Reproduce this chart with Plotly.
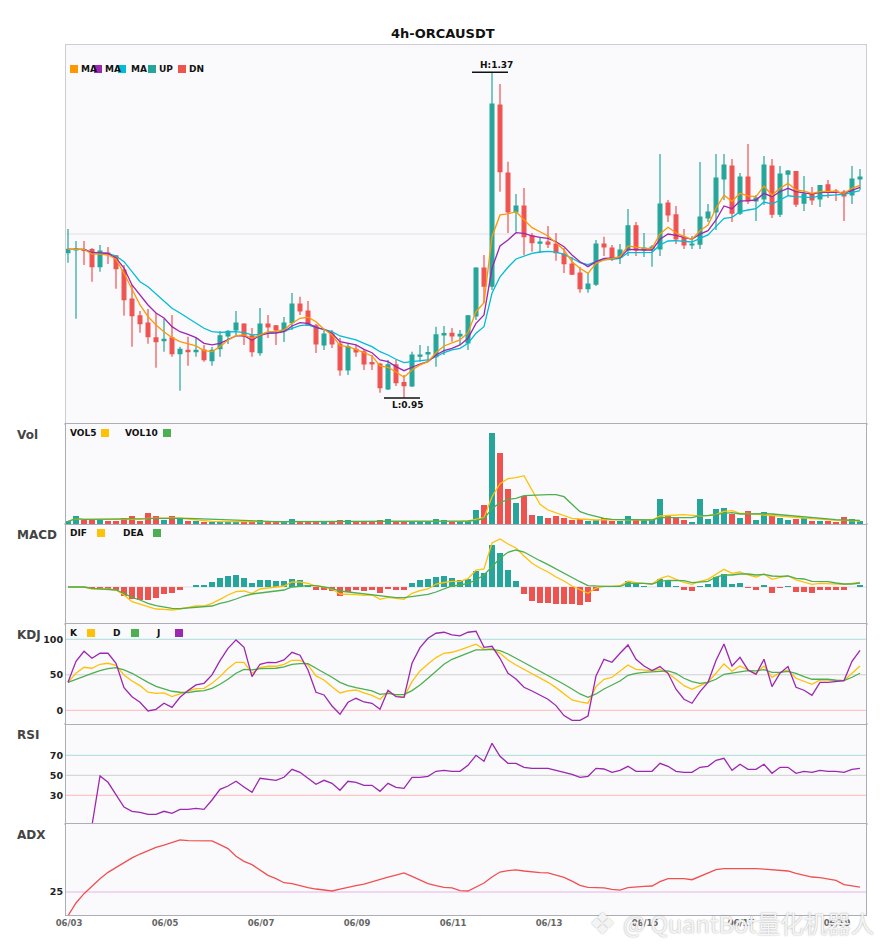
import plotly.graph_objects as go
from plotly.subplots import make_subplots

tick_index = [0, 12, 24, 36, 48, 60, 72, 84, 96]
tick_text = ["06/03", "06/05", "06/07", "06/09", "06/11", "06/13", "06/15", "06/17", "06/19"]

opens = [1.137,1.1405,1.141,1.1411,1.119,1.1366,1.1328,1.1147,1.0773,1.0554,
1.0463,1.027,1.0235,1.027,1.0067,1.0111,1.0093,1.0115,0.9977,1.0132,
1.0296,1.0373,1.045,1.0296,1.008,1.045,1.0425,1.036,1.0467,1.0708,
1.0618,1.0425,1.0179,1.0321,1.0192,0.9857,1.0124,1.009,0.9951,0.9934,
0.9612,0.9922,0.9693,0.9651,1.0034,1.0063,1.0028,1.0309,1.033,1.0296,
1.0205,1.0554,1.1173,1.094,1.3276,1.2398,1.1895,1.1973,1.1586,1.1495,
1.1508,1.1482,1.1353,1.1224,1.1108,1.0906,1.0966,1.1482,1.1431,1.1315,
1.1405,1.1715,1.1405,1.1418,1.1418,1.2011,1.1857,1.1573,1.147,1.1482,
1.1818,1.1895,1.2321,1.2489,1.1882,1.2347,1.2037,1.2063,1.2489,1.1869,
1.2385,1.2418,1.2011,1.2127,1.2063,1.2244,1.2166,1.2153,1.2115,1.2321]
highs = [1.1676,1.1521,1.1521,1.1431,1.147,1.1444,1.134,1.1211,1.0954,1.0618,
1.0644,1.0592,1.0515,1.0567,1.0158,1.0287,1.0274,1.018,1.0154,1.036,
1.0373,1.0618,1.0459,1.0399,1.0657,1.0567,1.0438,1.0541,1.085,1.0803,
1.0747,1.045,1.0373,1.0373,1.027,1.0205,1.018,1.0128,1.005,0.9951,
0.9986,0.9986,0.9793,1.0093,1.018,1.0167,1.0416,1.0425,1.0399,1.0373,
1.0567,1.1182,1.134,1.37,1.3546,1.2544,1.2127,1.2205,1.1624,1.1577,
1.1715,1.1624,1.1431,1.1315,1.1186,1.1108,1.1534,1.1577,1.147,1.1482,
1.1934,1.1766,1.1624,1.147,1.2643,1.205,1.1973,1.1676,1.1586,1.254,
1.1998,1.2643,1.2643,1.2579,1.2398,1.2772,1.2115,1.2618,1.2579,1.2489,
1.2437,1.2424,1.236,1.2218,1.2244,1.2308,1.2192,1.2179,1.2489,1.245]
lows = [1.1241,1.0519,1.1211,1.0996,1.1125,1.1224,1.0906,1.0557,1.0158,1.0338,
1.0196,0.9887,1.0093,1.0028,0.959,0.9912,1.0028,0.9964,0.9912,1.0028,
1.0192,1.0309,1.018,1.0028,1.0041,1.027,1.018,1.0218,1.0373,1.0567,
1.0425,1.0076,1.0115,1.0141,0.9783,0.9792,1.0028,0.9857,0.9857,0.9564,
0.9599,0.965,0.95,0.9638,0.9964,0.9964,0.99,1.005,1.0222,1.018,
1.0115,1.0502,1.0721,1.0889,1.2157,1.1624,1.1641,1.134,1.1383,1.1366,
1.1431,1.1267,1.1108,1.1083,1.0854,1.0854,1.094,1.1328,1.1263,1.1224,
1.1328,1.1328,1.1315,1.119,1.1328,1.1766,1.1482,1.1418,1.1418,1.1418,
1.1766,1.1663,1.205,1.1766,1.1857,1.1998,1.1779,1.1986,1.1818,1.1831,
1.2115,1.196,1.1908,1.1986,1.196,1.2076,1.2037,1.1779,1.1998,1.2179]
closes = [1.1414,1.1418,1.1401,1.119,1.1392,1.1353,1.1164,1.0764,1.0557,1.0454,
1.0287,1.0222,1.0253,1.0067,1.0124,1.0093,1.0111,0.999,1.0111,1.0296,
1.0356,1.0463,1.0296,1.0093,1.045,1.0412,1.0373,1.0463,1.0708,1.0618,
1.0438,1.0192,1.0321,1.0192,0.9857,1.0154,1.009,0.9934,0.9934,0.9629,
0.9922,0.9693,0.9654,1.005,1.005,1.008,1.0309,1.0325,1.0296,1.0317,
1.0554,1.1173,1.094,1.3288,1.2415,1.1895,1.1973,1.1577,1.1499,1.1508,
1.1482,1.137,1.1228,1.1095,1.0906,1.0966,1.1482,1.1444,1.1302,1.1405,
1.1715,1.1405,1.1431,1.1444,1.1998,1.1857,1.1547,1.147,1.1482,1.1831,
1.1895,1.2334,1.2502,1.1882,1.2347,1.2037,1.2076,1.2502,1.1869,1.2385,
1.2424,1.1998,1.2127,1.205,1.2237,1.2153,1.2153,1.2102,1.2321,1.2347]

ma5 = [1.1414,1.1414,1.1414,1.1353,1.1353,1.134,1.1285,1.1104,1.0889,1.0696,
1.0545,1.0438,1.0351,1.0274,1.0222,1.0192,1.0167,1.0106,1.0093,1.0158,
1.0244,1.03,1.0309,1.0266,1.0309,1.0351,1.0356,1.0373,1.0459,1.0524,
1.0537,1.048,1.0382,1.0309,1.0171,1.0158,1.0124,1.008,1.0038,0.9909,
0.9892,0.9831,0.9763,0.9857,0.9922,0.9964,1.008,1.0167,1.0209,1.0244,
1.0338,1.0609,1.0725,1.1577,1.1857,1.187,1.1899,1.1792,1.1693,1.1641,
1.1586,1.1499,1.1405,1.1254,1.1169,1.1104,1.1233,1.1276,1.1302,1.1319,
1.1457,1.144,1.1427,1.1427,1.1611,1.1698,1.1628,1.1577,1.1543,1.1654,
1.1728,1.1943,1.2111,1.2033,1.2136,1.2102,1.2093,1.2231,1.2111,1.2201,
1.2265,1.2179,1.2166,1.2136,1.2157,1.2162,1.2162,1.2136,1.2201,1.224]
ma10 = [1.1414,1.1414,1.1414,1.1373,1.1366,1.136,1.1302,1.1173,1.0954,1.0825,
1.0696,1.0592,1.0528,1.0416,1.0351,1.0317,1.0274,1.0201,1.018,1.0201,
1.0244,1.0296,1.03,1.024,1.0305,1.033,1.0334,1.0351,1.0425,1.0467,
1.0459,1.0408,1.0382,1.033,1.0222,1.0201,1.018,1.0124,1.008,0.9986,
0.9964,0.99,0.9848,0.9892,0.9934,0.9964,1.005,1.0106,1.0137,1.018,
1.0266,1.0459,1.0567,1.1169,1.1457,1.1534,1.1628,1.162,1.1586,1.1569,
1.1556,1.1512,1.1448,1.134,1.1254,1.119,1.1254,1.1298,1.1298,1.1306,
1.1414,1.1405,1.1405,1.1405,1.1543,1.1611,1.1595,1.1569,1.1543,1.1611,
1.1654,1.1792,1.1973,1.1938,1.2037,1.2041,1.205,1.2136,1.2093,1.2157,
1.2201,1.2157,1.2144,1.2127,1.2149,1.2153,1.2153,1.2136,1.2179,1.2214]
ma20 = [1.1414,1.1414,1.1414,1.137,1.137,1.1362,1.1328,1.1254,1.1125,1.0996,
1.0932,1.0837,1.0751,1.0653,1.0592,1.0528,1.0467,1.0395,1.0351,1.0343,
1.0347,1.0351,1.0338,1.0309,1.0317,1.0338,1.0343,1.0356,1.0395,1.0428,
1.0438,1.0403,1.0382,1.0351,1.0296,1.0266,1.0244,1.0201,1.0158,1.0093,
1.005,0.9995,0.9951,0.9964,0.9977,0.9986,1.0028,1.008,1.0115,1.0137,
1.0201,1.033,1.0416,1.0846,1.106,1.1182,1.1289,1.1328,1.1362,1.1379,
1.1388,1.1379,1.1349,1.1298,1.1241,1.1215,1.1254,1.1282,1.1285,1.1298,
1.137,1.137,1.137,1.1375,1.147,1.1521,1.1525,1.1512,1.1508,1.1556,
1.1599,1.1706,1.1814,1.1827,1.1899,1.1921,1.1938,1.2024,1.1998,1.205,
1.2105,1.2093,1.2085,1.208,1.2102,1.2105,1.2115,1.2124,1.2144,1.217]

volume = [2.7,7.7,4,4,4,2.7,3.3,5.7,7.7,2.7,
10.7,7.7,3.7,7.7,5.7,2.7,2.7,1.7,1.7,1.7,
1.7,1.7,1.7,1.7,3.7,1.7,1.7,1.7,4.7,1.7,
1.7,1.7,1.7,1.7,3.7,3.7,1.7,1.7,1.7,3.7,
4.7,1.7,1.7,1.7,1.7,1.7,4.7,3.7,1.7,2.7,
2.7,13.7,18.7,90.7,70.7,34.7,20.7,27.7,8.7,7.7,
5.7,7.7,5.7,3.7,4.7,2.7,3.7,5.7,2.7,2.7,
7.7,3.7,3.7,3.7,24.7,7.7,5.7,3.7,1.7,24.7,
4.7,14.7,15.7,9.7,5.7,12.7,3.7,11.7,7.7,5.7,
3.7,4.7,5.7,2.7,2.7,2.7,1.7,6.7,4.7,2.7]
vol5 = [2.7,5.3,4.7,4.7,4.7,4.7,4.7,4.7,4.7,4.7,
5.7,5.7,6,6.3,6,5,4,3.3,2.7,2.3,
2.3,2,2,2,2,2,2,2,2.3,2.3,
2.3,2.3,2.3,2.3,2.3,2.3,2.3,2.3,2.3,2.3,
2.3,2.3,2.3,2.3,2.3,2.3,2.3,2.7,2.7,2.7,
3,4.7,6.3,27.3,40.3,45.3,46.3,48.3,34.7,19.7,
14,11.3,8,5.7,5,4.3,4,4.3,4.3,4.3,
4.3,4,4,4,8,8.3,8.7,9.3,8.7,8,
8.7,9.7,12.7,13.3,10.7,10.7,9.7,9,8.7,7.7,
7,6.3,5.7,5.3,5,4.3,3.7,3.7,3.7,3]
vol10 = [2.7,5.3,4.7,4.7,4.7,4.7,4.7,4.7,4.7,4.7,
5.3,5.7,5.8,6,6,5.7,5.3,5,4.7,4.3,
3.7,3.3,3,2.7,2.3,2.3,2.3,2.3,2.3,2.3,
2.3,2.3,2.3,2.3,2.3,2.3,2.3,2.3,2.3,2.3,
2.3,2.3,2.3,2.3,2.3,2.3,2.3,2.3,2.3,2.7,
3,3.7,5.3,15.3,21.3,24.7,25.7,28.3,28.7,29.3,
29.3,29.3,27.3,19.7,12.3,9.7,7.7,5.7,4.7,4.7,
4.7,4.7,4.7,4,6.3,6.3,6.3,6.3,6.3,8.3,
8.3,9.3,10.7,11.3,10,10,10.3,10.3,10,9.3,
8.7,7.7,6.7,6.3,5.7,4.7,4.3,4,4,3.7]

macd_hist = [0,0,0,-1.3,-1.3,-1.3,-3,-9,-12.3,-13,
-13,-11.3,-7,-6,-3,0,2,2,5,9,
11,12,9,4,7,7,6,6,8,7,
2,-3,-3,-4,-9,-5,-3,-4,-3,-6,
-2,-3,-3,4,7,8,10,11,9,7,
8,16,14,42,34,17,6,-7,-14,-16,
-16,-17,-17,-17,-18,-15,-4,0,0,0,
6,3,1,0,8,7,1,-3,-4,1,
3,10,13,3,4,-0.7,-3,2,-6,-0.7,
1,-5,-5,-6,-3,-3,-3,-3,0,2]
dif = [0,0,0,-2,-2,-2,-3,-8,-14.7,-17,
-19.7,-22,-22.3,-23,-22,-20.7,-19,-19,-16.3,-12.3,
-8,-4.7,-4,-6.3,-2,-1,0,1,5,5,
3.7,1,0,-2,-7,-7,-7.7,-8.3,-8,-12.3,
-10.3,-11.3,-12.3,-6.3,-3.7,-2,3,4.5,5.7,5.7,
8.3,17,18,44,48,43,39,31,23.7,19,
15,10,6,1,-3,-6.3,-1,0.7,0.7,1.3,
5.7,4.3,3.7,3,8.3,11,7.7,4.7,2.7,5.7,
7.7,13,17.7,13.7,15,12,10,13,7.7,9.7,
11,7,4.7,2.7,3.7,3.3,2.7,2.7,3.7,4.7]
dea = [0,0,0,-1.3,-1.7,-2,-3,-6.3,-10.3,-13,
-16.3,-18.7,-20,-21.3,-21.7,-21,-20.3,-20,-19,-16.3,
-14.7,-12,-9,-7,-6.3,-5,-4,-3,0,1,
1.3,1.3,0.3,-1.3,-4,-5,-6,-7,-7.7,-9,
-9.7,-10.7,-10.7,-9.7,-8.7,-7.3,-5,-1.8,1,2,
3.7,7,12,20.3,28.7,34.7,37,35,30.3,26.3,
22.3,18,13.3,9.3,5.3,1.3,0.7,0.7,0.7,0.7,
3.7,4,3.7,3,5.7,6.7,6.7,6.3,4.3,5.3,
5.7,10,12,12,13,13,12,12.7,11,10.7,
11,8.7,8,5.7,5.7,5.3,4,3,3,4]

kdj_k = [39.4,52.1,60.6,59.2,64.8,66.2,63.4,49.8,41.3,34.7,
25.4,23.9,24.4,19.2,23,26.8,30.5,31,38,47.4,
58.7,67.6,67.6,52.1,60.1,62,62,64.8,70.4,70.4,
63.8,48.4,42.7,33.3,24.4,27.2,28.6,24.4,21.1,15.5,
26.3,20.2,18.3,40.4,55.4,65.3,74.2,80.3,81.7,85,
88.7,93,85.9,86.4,80.3,70.9,63.8,57.7,51.2,45.1,
39.4,31.9,23,14.6,11.7,9.9,33.3,43.7,46.5,54.9,
63.8,57.7,56.8,55.9,57.7,52.1,43.7,34.7,29.6,34.3,
39.9,52.1,65.3,54.9,62.4,56.8,52.1,62.4,46.5,53,
56.8,45.1,40.8,36.6,42.7,42.7,41.8,41.8,52.1,62.4]
kdj_d = [39.4,43.7,48.8,52.1,55.9,58.7,60.1,56.8,52.1,45.5,
39.4,33.8,30.5,26.8,25.4,24.9,26.8,27.7,31,36.6,
43.7,52.1,57.7,56.8,58.7,59.2,59.2,61,64.8,65.7,
65.7,59.2,53,46.5,39.4,34.7,31.9,29.6,27.2,22.5,
23.9,22.1,22.1,27.7,35.7,45.1,54.5,64.8,71.8,76.5,
80.3,85,85,85.9,84,79.3,73.2,67.1,61.5,55.9,
49.8,43.7,36.6,30,23,18.3,23,30,35.7,41.3,
49.3,52.1,53.5,54,54.9,55.4,52.1,45.1,40.4,38,
39.4,43.7,50.7,52.1,54.5,55.9,55.4,57.3,53.5,53.5,
54.9,52.1,47.4,43.7,43.7,43.7,42.3,41.8,46.5,52.1]
kdj_j = [39.4,69,83.1,73.2,80.3,80.3,66.2,31.9,19.2,11.3,
-0.9,1.4,9.9,4.2,18.3,27.7,35.7,38,49.8,70,
87.3,99.1,88.7,47.4,64.8,67.6,67.1,70.9,81.7,77.5,
56.8,25.4,21.6,6.1,-5.6,11.3,16.9,11.7,9.9,1.4,
28.2,19.2,18.3,66.2,88.3,101.4,108.5,109.9,106.1,104.7,
109.9,111.3,88.7,90.1,73.2,52.1,44.1,32.4,27.2,21.1,
15.5,6.6,-7.5,-14.1,-14.1,-8,48.4,71.8,67.6,80.3,
92,71.8,62.4,55.9,61.5,52.1,29.6,15.5,9.9,26.3,
39.4,70,93.4,62.4,74.6,56.8,50.7,71.8,33.3,52.1,
61.5,32.4,28.2,21.1,39.4,39.4,40.8,41.8,69,84.5]

rsi = [None,None,None,0,49.3,43,31.3,18.3,14,13,
11,11,14,12,16,16,17,16,25.3,36,
39.3,44,38.3,33,47,46,45,48,56,53,
47,41,45,42,35,44,43,40,40,34,
42,38,37,48,48,49,54,55,54,54,
60,70,64,82,69,62,62,58,57,57,
57,55,53,51,48,49,57,56.3,53,55,
59,54,54,54,62,59,54,53,53,58,
59,65,67,55,61,56,56,61,52,58,
58,52,54,53,55,54,54,53,56,57]

adx = [9.2,17.7,23.9,29.2,33.9,38.1,41.4,44.8,47.7,50.3,
52.8,54.8,56.3,58.1,59.7,59.2,59,59,59,56.6,
53.9,48.8,45.4,43.2,39.4,36.1,33.9,31.2,30.6,29.2,
27.9,27,26.3,25.7,27,27.9,29.2,30.3,31.9,33.7,
35,36.3,37.7,35.4,33,30.6,29.2,28.1,27.7,25.9,
25.7,28.1,31,35,38.3,39.2,39.7,39,38.3,37.9,
37.7,36.3,34.8,32.3,29.4,28.1,27.9,27.7,26.8,26.3,
27.9,28.6,28.8,29,31.9,33.9,33.9,33.9,33.2,35.4,
37.2,39.9,40.6,40.6,40.6,41,40.6,40.3,39.7,39.2,
39,37.4,36.1,35,34.6,33.9,32.8,29.9,29.2,28.3]

UP, DN = "#26A69A", "#EF5350"
BG = "#FAFAFC"
LINE_M, LINE_P = "#CDCDD6", "#ADADB5"
FONT = "DejaVu Sans"
xs = list(range(100))

# figure is inset by the page's 8 px body margin
FIG_W, FIG_H = 869, 934
L, T, R, B = 66, 45, 866, 915

fig = make_subplots(rows=6, cols=1, shared_xaxes=True, vertical_spacing=0,
                    row_heights=[379, 100, 100, 100, 100, 91])

fig.add_trace(go.Candlestick(x=xs, open=opens, high=highs, low=lows, close=closes,
    increasing=dict(line=dict(color=UP, width=1.2), fillcolor=UP),
    decreasing=dict(line=dict(color=DN, width=1.2), fillcolor=DN),
    whiskerwidth=0, name="K"), row=1, col=1)
for s, c in ((ma20, "#00BCD4"), (ma10, "#9C27B0"), (ma5, "#FF9800")):
    fig.add_trace(go.Scatter(x=xs, y=s, mode="lines", line=dict(color=c, width=1.3)), row=1, col=1)

vcolors = [UP if c >= o else DN for o, c in zip(opens, closes)]
fig.add_trace(go.Bar(x=xs, y=volume, marker=dict(color=vcolors, line_width=0), width=0.75), row=2, col=1)
fig.add_trace(go.Scatter(x=xs, y=vol5, mode="lines", line=dict(color="#FFC107", width=1.3)), row=2, col=1)
fig.add_trace(go.Scatter(x=xs, y=vol10, mode="lines", line=dict(color="#4CAF50", width=1.3)), row=2, col=1)

hcolors = [UP if v >= 0 else DN for v in macd_hist]
fig.add_trace(go.Bar(x=xs, y=macd_hist, marker=dict(color=hcolors, line_width=0), width=0.75), row=3, col=1)
fig.add_trace(go.Scatter(x=xs, y=dif, mode="lines", line=dict(color="#FFC107", width=1.3)), row=3, col=1)
fig.add_trace(go.Scatter(x=xs, y=dea, mode="lines", line=dict(color="#4CAF50", width=1.3)), row=3, col=1)

for s, c in ((kdj_k, "#FFC107"), (kdj_d, "#4CAF50"), (kdj_j, "#9C27B0")):
    fig.add_trace(go.Scatter(x=xs, y=s, mode="lines", line=dict(color=c, width=1.3)), row=4, col=1)
fig.add_trace(go.Scatter(x=xs, y=rsi, mode="lines", line=dict(color="#9C27B0", width=1.3)), row=5, col=1)
fig.add_trace(go.Scatter(x=xs, y=adx, mode="lines", line=dict(color="#F05050", width=1.3)), row=6, col=1)

TEAL_REF, GRAY_REF, PINK_REF = "#A8DCD8", "#CFCFCF", "#FFB8B8"
for row, val, col in ((4, 100, TEAL_REF), (4, 50, GRAY_REF), (4, 0, PINK_REF),
                      (5, 70, TEAL_REF), (5, 50, GRAY_REF), (5, 30, PINK_REF),
                      (6, 25, "#E4B4E8")):
    fig.add_hline(y=val, line=dict(color=col, width=1), layer="below", row=row, col=1)
fig.add_hline(y=1.1611, line=dict(color="#DFDFE8", width=1), layer="below", row=1, col=1)
fig.add_hline(y=0, line=dict(color="#E0E0E6", width=1), layer="below", row=3, col=1)


def px(x):
    return (x - L) / (R - L)


def py(y):
    return (B - y) / (B - T)


def label(x, y, text, size=9, color="#111111", anchor="left", bold=True, family=FONT, shadow=None):
    font = dict(family=family, size=size, color=color)
    if shadow:
        font["shadow"] = shadow
    fig.add_annotation(xref="paper", yref="paper", x=px(x), y=py(y), text=f"<b>{text}</b>" if bold else text,
                       showarrow=False, xanchor=anchor, yanchor="middle", font=font)


def square(x, y, color):
    fig.add_shape(type="rect", xref="paper", yref="paper", x0=px(x), x1=px(x + 8), y0=py(y + 8), y1=py(y),
                  fillcolor=color, line_width=0, layer="above")


for tx, t, sx, c in ((79, "MA", 70, "#FF9800"), (103, "MA", 94, "#9C27B0"), (129, "MA", 118, "#00BCD4"),
                     (157, "UP", 148, UP), (187, "DN", 178, DN)):
    label(tx, 69, t)
    square(sx, 65, c)
for y0, items in ((429, ((68, "VOL5", 101, "#FFC107"), (123, "VOL10", 163, "#4CAF50"))),
                  (529, ((68, "DIF", 97, "#FFC107"), (121, "DEA", 153, "#4CAF50"))),
                  (629, ((68, "K", 87, "#FFC107"), (111, "D", 131, "#4CAF50"), (154, "J", 175, "#9C27B0")))):
    for tx, t, sx, c in items:
        label(tx, y0 + 4, t)
        square(sx, y0, c)

for y, t in ((435, "Vol"), (535, "MACD"), (635, "KDJ"), (735, "RSI"), (835, "ADX")):
    label(15, y, t, size=12, color="#444444")

label(443, 34, "4h-ORCAUSDT", size=13, color="#111111", anchor="center")

# high / low markers
fig.add_shape(type="line", xref="x", yref="y", x0=50.5, x1=55, y0=1.37, y1=1.37,
              line=dict(color="#111111", width=1.5))
fig.add_shape(type="line", xref="x", yref="y", x0=39.5, x1=44, y0=0.9496, y1=0.9496,
              line=dict(color="#111111", width=1.5))
fig.add_annotation(xref="x", yref="y", x=53.6, y=1.37, text="<b>H:1.37</b>", showarrow=False, yanchor="bottom",
                   font=dict(family=FONT, size=9, color="#111111"))
fig.add_annotation(xref="x", yref="y", x=42.5, y=0.9496, text="<b>L:0.95</b>", showarrow=False, yanchor="top",
                   font=dict(family=FONT, size=9, color="#111111"))

# small ticks where the panels meet
for y in (424, 524, 624, 724, 824):
    for x0, x1 in ((64, 66), (866, 868)):
        fig.add_shape(type="line", xref="paper", yref="paper", x0=px(x0), x1=px(x1), y0=py(y), y1=py(y),
                      line=dict(color=LINE_P, width=1))

# watermark
label(748, 923, "@ QuantBot量化机器人", size=23.5, color="rgba(255,255,255,0.9)", anchor="center", bold=False,
      family="Noto Sans CJK SC", shadow="0 0 1.5px #8a8a8a")
label(602, 923, "❖", size=30, color="rgba(255,255,255,0.9)", anchor="center", bold=False,
      family="DejaVu Sans", shadow="0 0 1.5px #9a9a9a")

fig.update_layout(width=FIG_W, height=FIG_H, margin=dict(l=L - 8, r=8 + FIG_W - R, t=T - 8, b=8 + FIG_H - B),
                  paper_bgcolor="#FFFFFF", plot_bgcolor=BG, showlegend=False, barmode="overlay", bargap=0,
                  boxgap=0.32, font=dict(family=FONT))

fig.update_xaxes(range=[-0.25, 99.75], showgrid=False, zeroline=False, showline=False,
                 linecolor=LINE_P, linewidth=1, ticks="", rangeslider_visible=False)
fig.update_xaxes(showline=True, mirror=True, row=2, col=1)
fig.update_xaxes(showline=True, mirror=True, row=4, col=1)
fig.update_xaxes(showline=True, mirror=True, row=6, col=1)
fig.update_xaxes(showline=True, side="top", linecolor=LINE_M, row=1, col=1)
fig.update_xaxes(tickmode="array", tickvals=tick_index, ticktext=tick_text, row=6, col=1, showticklabels=True,
                 ticks="", ticklabelshift=1, tickfont=dict(family=FONT, size=8.5, color="#666666", weight="bold"))

fig.update_yaxes(showgrid=False, zeroline=False, showline=True, mirror=True, linecolor=LINE_P, linewidth=1,
                 ticks="", tickfont=dict(family=FONT, size=9.5, color="#222222", weight="bold"))
fig.update_yaxes(range=[0.916, 1.405], showticklabels=False, linecolor=LINE_M, row=1, col=1)
fig.update_yaxes(range=[0, 100], showticklabels=False, row=2, col=1)
fig.update_yaxes(range=[-37, 63], showticklabels=False, row=3, col=1)
fig.update_yaxes(range=[-19.3, 121.5], tickmode="array", tickvals=[0, 50, 100], row=4, col=1)
fig.update_yaxes(range=[1.3, 101.3], tickmode="array", tickvals=[30, 50, 70], row=5, col=1)
fig.update_yaxes(range=[9.7, 70.3], tickmode="array", tickvals=[25], row=6, col=1)

fig.write_html("out.html")
